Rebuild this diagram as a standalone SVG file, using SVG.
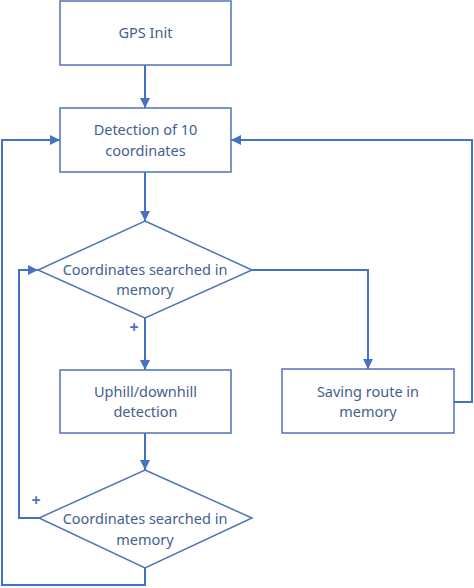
<svg xmlns="http://www.w3.org/2000/svg" width="474" height="588" viewBox="0 0 474 588">
<style>
.box{fill:#fff;stroke:#4F74B8;stroke-width:1.5}
.lbl{font-family:"Noto Sans","Open Sans",sans-serif;font-size:14.5px;fill:#44618F;text-anchor:middle}
.con{fill:none;stroke:#4472C4;stroke-width:2}
.plus{font-family:"Noto Sans",sans-serif;font-size:16px;font-weight:bold;fill:#4472C4;text-anchor:middle}
</style>
<defs>
<marker id="ah" viewBox="0 0 10 10" refX="10" refY="5" markerWidth="5" markerHeight="5" orient="auto" markerUnits="strokeWidth">
<path d="M0,0 L10,5 L0,10 z" fill="#4472C4"/>
</marker>
</defs>
<rect width="474" height="588" fill="#fff"/>
<g id="connectors">
<path class="con" d="M145,65 V108" marker-end="url(#ah)"/>
<path class="con" d="M145,172 V221" marker-end="url(#ah)"/>
<path class="con" d="M145,318 V370" marker-end="url(#ah)"/>
<path class="con" d="M145,433 V470" marker-end="url(#ah)"/>
<path class="con" d="M252,270 H368 V369" marker-end="url(#ah)"/>
<path class="con" d="M454,402 H472 V140 H231" marker-end="url(#ah)"/>
<path class="con" d="M39,518 H19 V270 H38" marker-end="url(#ah)"/>
<path class="con" d="M145,568 V585 H2 V140 H60" stroke="#6F8FD0" marker-end="url(#ah)"/>
</g>
<g id="gps">
<rect class="box" x="60" y="1" width="171" height="64"/>
<text class="lbl" x="145.5" y="38">GPS Init</text>
</g>
<g id="detection">
<rect class="box" x="60" y="108" width="171" height="64"/>
<text class="lbl" x="145.5" y="135">Detection of 10</text>
<text class="lbl" x="145.5" y="156">coordinates</text>
</g>
<g id="decision1">
<path class="box" d="M145,221 L252,270 L145,318 L38,270 z"/>
<text class="lbl" x="145" y="275">Coordinates searched in</text>
<text class="lbl" x="145" y="295">memory</text>
<text class="plus" x="134" y="333">+</text>
</g>
<g id="uphill">
<rect class="box" x="60" y="370" width="171" height="63"/>
<text class="lbl" x="145.5" y="397">Uphill/downhill</text>
<text class="lbl" x="145.5" y="417">detection</text>
</g>
<g id="saving">
<rect class="box" x="282" y="369" width="172" height="64"/>
<text class="lbl" x="368" y="397">Saving route in</text>
<text class="lbl" x="368" y="417">memory</text>
</g>
<g id="decision2">
<path class="box" d="M145,470 L252,518 L145,568 L39,518 z"/>
<text class="lbl" x="145" y="524">Coordinates searched in</text>
<text class="lbl" x="145" y="545">memory</text>
<text class="plus" x="36" y="506">+</text>
</g>
</svg>
